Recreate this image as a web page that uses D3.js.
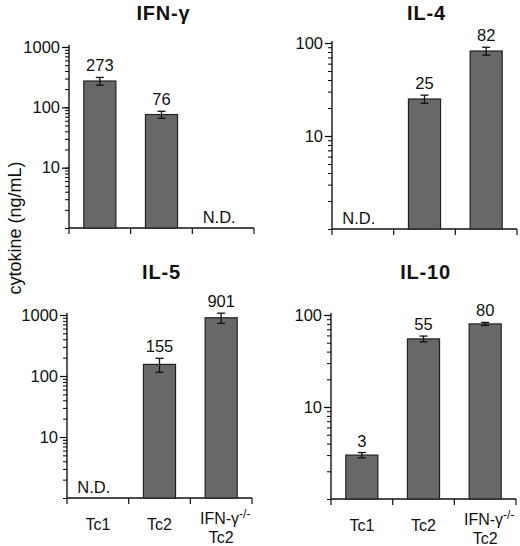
<!DOCTYPE html>
<html>
  <head>
    <meta charset="utf-8">
    <title>cytokines</title>
    <style>
      body { margin: 0; background: #fff; }
      text { font-family: "Liberation Sans", Arial, sans-serif; fill: #111; }
    </style>
  </head>
  <body>
    <div id="container"></div>
    <script src="https://cdn.jsdelivr.net/npm/d3@7"></script>
    <script>
      // data (ng/mL), null = not detected
      var categories = ["Tc1", "Tc2", "IFN-γ-/- Tc2"];
      var titles = ["IFN-γ", "IL-4", "IL-5", "IL-10"];

      var ifngValues = [273, 76, null];
      var ifngErrors = [40, 10, null];
      var il4Values = [null, 25, 82];
      var il4Errors = [null, 2.5, 8];
      var il5Values = [null, 155, 901];
      var il5Errors = [null, 40, 170];
      var il10Values = [3, 55, 80];
      var il10Errors = [0.2, 4, 3];

      var ifngTicks = [10, 100, 1000];
      var il4Ticks = [10, 100];
      var il5Ticks = [10, 100, 1000];
      var il10Ticks = [10, 100];

      var W = 520, H = 546;
      var svg = d3.select("#container").append("svg")
        .attr("width", W)
        .attr("height", H);

      var panels = [
        {title: titles[0], values: ifngValues, errors: ifngErrors, ticks: ifngTicks, max: 1000, x0: 69, y0: 228, y1: 47, ty: 20, labels: false},
        {title: titles[1], values: il4Values, errors: il4Errors, ticks: il4Ticks, max: 100, x0: 332, y0: 229, y1: 43, ty: 20, labels: false},
        {title: titles[2], values: il5Values, errors: il5Errors, ticks: il5Ticks, max: 1000, x0: 67, y0: 498, y1: 315, ty: 279, labels: true},
        {title: titles[3], values: il10Values, errors: il10Errors, ticks: il10Ticks, max: 100, x0: 331, y0: 499, y1: 315, ty: 279, labels: true}
      ];
      var pw = 185;

      panels.forEach(function(p) {
        var g = svg.append("g");
        var x = d3.scaleBand().domain(categories)
          .range([p.x0, p.x0 + pw])
          .paddingInner(0.48).paddingOuter(0.24);
        var y = d3.scaleLog().domain([1, p.max]).range([p.y0, p.y1]);

        // title
        g.append("text")
          .attr("x", p.x0 + pw / 2 + 2)
          .attr("y", p.ty)
          .attr("text-anchor", "middle")
          .style("font-size", "20px")
          .style("font-weight", "bold")
          .style("letter-spacing", "0.8px")
          .text(p.title);

        // minor ticks
        g.append("g")
          .attr("transform", "translate(" + p.x0 + ",0)")
          .call(d3.axisLeft(y).tickValues(y.ticks()).tickSize(4).tickFormat(""))
          .call(function(a) { a.select(".domain").remove(); });

        // major ticks + labels
        var ya = g.append("g")
          .attr("transform", "translate(" + p.x0 + ",0)")
          .call(d3.axisLeft(y).tickValues(p.ticks).tickSize(7).tickPadding(2).tickFormat(d3.format("d")).tickSizeOuter(0));
        ya.selectAll("text").style("font-size", "16.5px").attr("fill", "#111");
        ya.select(".domain").attr("d", "M0," + p.y0 + "V" + (p.y1 - 2)).attr("stroke-width", 1.3);
        ya.selectAll("line").attr("stroke-width", 1.2);

        // x axis with ticks at band boundaries
        g.append("line")
          .attr("x1", p.x0).attr("x2", p.x0 + pw)
          .attr("y1", p.y0).attr("y2", p.y0)
          .attr("stroke", "#111").attr("stroke-width", 1.3);
        var bounds = d3.range(categories.length + 1).map(function(i) { return p.x0 + i * x.step(); });
        g.selectAll(".xt").data(bounds).enter().append("line")
          .attr("class", "xt")
          .attr("x1", function(d) { return d; }).attr("x2", function(d) { return d; })
          .attr("y1", p.y0).attr("y2", p.y0 + 6)
          .attr("stroke", "#111").attr("stroke-width", 1.2);

        var rows = categories.map(function(c, i) {
          return {cat: c, v: p.values[i], e: p.errors[i]};
        });

        // bars
        g.selectAll(".bar").data(rows.filter(function(d) { return d.v != null; }))
          .enter().append("rect")
          .attr("class", "bar")
          .attr("x", function(d) { return x(d.cat); })
          .attr("width", x.bandwidth())
          .attr("y", function(d) { return y(d.v); })
          .attr("height", function(d) { return p.y0 - y(d.v); })
          .style("fill", "#686868")
          .style("stroke", "#222")
          .style("stroke-width", 1.2);

        // error bars
        var eb = g.selectAll(".eb").data(rows.filter(function(d) { return d.v != null; }))
          .enter().append("g").attr("class", "eb");
        eb.append("line")
          .attr("x1", function(d) { return x(d.cat) + x.bandwidth() / 2; })
          .attr("x2", function(d) { return x(d.cat) + x.bandwidth() / 2; })
          .attr("y1", function(d) { return y(d.v + d.e); })
          .attr("y2", function(d) { return y(d.v - d.e); })
          .attr("stroke", "#111").attr("stroke-width", 1.3);
        [1, -1].forEach(function(s) {
          eb.append("line")
            .attr("x1", function(d) { return x(d.cat) + x.bandwidth() / 2 - 4; })
            .attr("x2", function(d) { return x(d.cat) + x.bandwidth() / 2 + 4; })
            .attr("y1", function(d) { return y(d.v + s * d.e); })
            .attr("y2", function(d) { return y(d.v + s * d.e); })
            .attr("stroke", "#111").attr("stroke-width", 1.3);
        });

        // value labels
        g.selectAll(".val").data(rows)
          .enter().append("text")
          .attr("class", "val")
          .attr("x", function(d) { return x(d.cat) + x.bandwidth() / 2 - (d.v == null ? 4 : 0); })
          .attr("y", function(d) { return d.v == null ? p.y0 - 5 : y(d.v + d.e) - 6; })
          .attr("text-anchor", "middle")
          .style("font-size", "16.5px")
          .text(function(d) { return d.v == null ? "N.D." : d3.format("d")(d.v); });

        // category labels on the bottom row
        if (p.labels) {
          categories.forEach(function(c) {
            var cx = x(c) + x.bandwidth() / 2;
            var parts = c.split(" ");
            if (parts.length == 1) {
              g.append("text").attr("x", cx).attr("y", p.y0 + 32)
                .attr("text-anchor", "middle").style("font-size", "16px").text(c);
            } else {
              var t = g.append("text").attr("x", cx + 4).attr("y", p.y0 + 26)
                .attr("text-anchor", "middle").style("font-size", "16px");
              t.append("tspan").text(parts[0].replace("-/-", ""));
              t.append("tspan").attr("dy", -6).style("font-size", "12px").text("-/-");
              g.append("text").attr("x", cx).attr("y", p.y0 + 45)
                .attr("text-anchor", "middle").style("font-size", "16px").text(parts[1]);
            }
          });
        }
      });

      // shared y label
      svg.append("text")
        .attr("transform", "translate(21,228) rotate(-90)")
        .attr("text-anchor", "middle")
        .style("font-size", "18px")
        .text("cytokine (ng/mL)");
    </script>
  </body>
</html>
